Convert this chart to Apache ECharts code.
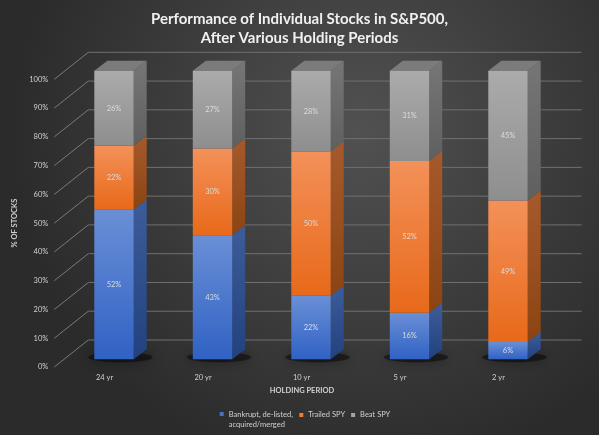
<!DOCTYPE html>
<html><head><meta charset="utf-8">
<script src="https://cdn.jsdelivr.net/npm/echarts@6/dist/echarts.min.js"></script>
<style>html,body{margin:0;padding:0;background:#333}#c{width:599px;height:435px}</style>
</head><body><div id="c"></div>
<script>
const categories = ['24 yr', '20 yr', '10 yr', '5 yr', '2 yr'];
const bankrupt = [52, 43, 22, 16, 6];
const trailed = [22, 30, 50, 52, 49];
const beat = [26, 27, 28, 31, 45];
const yTicks = [0, 10, 20, 30, 40, 50, 60, 70, 80, 90, 100];
const seriesNames = ['Bankrupt, de-listed,\nacquired/merged', 'Trailed SPY', 'Beat SPY'];

const FONT = 'Lato';
const palettes = [
  { legend: '#4472c4', front: ['#6a8fd6', '#3062c4'], side: ['#3d5d9a', '#22427f'] },
  { legend: '#ed7d31', front: ['#f39159', '#e8691a'], side: ['#a65a2c', '#8c4412'] },
  { legend: '#a5a5a5', front: ['#ababab', '#8e8e8e'], side: ['#767676', '#5f5f5f'], top: '#7b7b7b' }
];

const valueSets = [bankrupt, trailed, beat];
// 100% stacked: each column is scaled to its total, labels show the values
function stackRows(k) {
  return categories.map(function (c, i) {
    let total = 0, base = 0;
    for (let j = 0; j < valueSets.length; j++) total += valueSets[j][i];
    for (let j = 0; j < k; j++) base += valueSets[j][i];
    const s = 100 / total;
    return [i, base * s, (base + valueSets[k][i]) * s, valueSets[k][i]];
  });
}

function grad(c) {
  return new echarts.graphic.LinearGradient(0, 0, 0, 1, [{ offset: 0, color: c[0] }, { offset: 1, color: c[1] }]);
}

function makeRender(k) {
  const pal = palettes[k];
  const isTop = k === valueSets.length - 1;
  return function (params, api) {
    const cat = api.value(0), lo = api.value(1), hi = api.value(2), pct = api.value(3);
    const pLo = api.coord([cat, lo]);
    const pHi = api.coord([cat, hi]);
    const bw = api.size([1, 0])[0] * 0.4;
    const x0 = pLo[0] - bw / 2, x1 = pLo[0] + bw / 2;
    const yT = pHi[1], yB = pLo[1];
    const dx = 13, dy = 10;
    const children = [];
    if (k === 0) {
      children.push({
        type: 'ellipse',
        shape: { cx: (x0 + x1 + dx) / 2, cy: yB - 2, rx: (bw + dx) / 2 + 6, ry: 5 },
        style: { fill: 'rgba(0,0,0,0.45)', shadowBlur: 12, shadowColor: 'rgba(0,0,0,0.8)' }
      });
    }
    children.push({
      type: 'polygon',
      shape: { points: [[x1, yT], [x1 + dx, yT - dy], [x1 + dx, yB - dy], [x1, yB]] },
      style: { fill: grad(pal.side) }
    });
    if (isTop) {
      children.push({
        type: 'polygon',
        shape: { points: [[x0, yT], [x0 + dx, yT - dy], [x1 + dx, yT - dy], [x1, yT]] },
        style: { fill: pal.top }
      });
    }
    children.push({
      type: 'rect',
      shape: { x: x0, y: yT, width: bw, height: yB - yT },
      style: { fill: grad(pal.front) }
    });
    children.push({
      type: 'text',
      style: {
        text: pct + '%', x: (x0 + x1) / 2, y: (yT + yB) / 2,
        align: 'center', verticalAlign: 'middle',
        fill: '#dcdcdc', fontSize: 7.5, fontFamily: FONT
      }
    });
    return { type: 'group', children: children };
  };
}

function renderGrid(params, api) {
  const v = api.value(0);
  const p = api.coord([0, v]);
  const pr = api.coord([1, v]);
  const dx = 34, dy = 27;
  return {
    type: 'group',
    children: [
      { type: 'line', shape: { x1: p[0], y1: p[1], x2: p[0] + dx, y2: p[1] - dy }, style: { stroke: '#7a7a7a', lineWidth: 1 } },
      { type: 'line', shape: { x1: p[0] + dx, y1: p[1] - dy, x2: pr[0], y2: p[1] - dy }, style: { stroke: '#707070', lineWidth: 1 } }
    ]
  };
}

const chart = echarts.init(document.getElementById('c'));
const barSeries = seriesNames.map(function (name, k) {
  return {
    type: 'custom', name: name, xAxisIndex: 1, yAxisIndex: 1, z: 3,
    itemStyle: { color: palettes[k].legend },
    renderItem: makeRender(k),
    encode: { x: 0, y: [1, 2] },
    data: stackRows(k)
  };
});

const legendText = { color: '#d0d0d0', fontSize: 7.5, fontFamily: FONT, lineHeight: 10 };
chart.setOption({
  backgroundColor: new echarts.graphic.RadialGradient(0.6, 0.3, 0.8, [
    { offset: 0, color: '#515151' }, { offset: 1, color: '#2b2b2b' }
  ]),
  animation: false,
  title: {
    text: 'Performance of Individual Stocks in S&P500,\nAfter Various Holding Periods',
    left: 'center', top: 5,
    textStyle: { color: '#f0f0f0', fontSize: 15, fontWeight: 'bold', fontFamily: FONT, lineHeight: 19 }
  },
  legend: [
    {
      left: 214.7, top: 404.5, itemWidth: 4, itemHeight: 15,
      icon: 'path://M0,0L4,0L4,4L0,4Z M0,15L4,15',
      textStyle: legendText,
      data: [seriesNames[0]]
    },
    {
      left: 294.3, top: 405, itemWidth: 4, itemHeight: 4, itemGap: 6,
      icon: 'rect',
      textStyle: legendText,
      data: [seriesNames[1], seriesNames[2]]
    }
  ],
  grid: [
    { left: 54.3, right: 17.3, top: 79.3, bottom: 68 },
    { left: 64.75, right: 41.75, top: 70.7, bottom: 75.7 }
  ],
  xAxis: [
    { type: 'value', gridIndex: 0, min: 0, max: 1, show: false },
    {
      type: 'category', gridIndex: 1, data: categories,
      axisLine: { show: false }, axisTick: { show: false },
      axisLabel: { color: '#d0d0d0', fontSize: 7.5, fontFamily: FONT, margin: 14, padding: [0, 19, 0, 0] },
      name: 'HOLDING PERIOD', nameLocation: 'middle', nameGap: 25,
      nameTextStyle: { color: '#d0d0d0', fontSize: 7.5, fontWeight: 'bold', fontFamily: FONT, padding: [0, 18, 0, 0] }
    }
  ],
  yAxis: [
    {
      type: 'value', gridIndex: 0, min: 0, max: 100, interval: 10,
      axisLine: { show: false }, axisTick: { show: false }, splitLine: { show: false },
      axisLabel: { color: '#d0d0d0', fontSize: 7.5, fontFamily: FONT, margin: 6, formatter: '{value}%' },
      name: '% OF STOCKS', nameLocation: 'middle', nameRotate: 90, nameGap: 25,
      nameTextStyle: { color: '#d0d0d0', fontSize: 7.5, fontWeight: 'bold', fontFamily: FONT }
    },
    { type: 'value', gridIndex: 1, min: 0, max: 100, show: false }
  ],
  series: [{
    type: 'custom', name: 'grid', xAxisIndex: 0, yAxisIndex: 0, z: 1, silent: true,
    renderItem: renderGrid, encode: { y: 0 },
    data: yTicks.map(function (t) { return [t]; })
  }].concat(barSeries)
});
</script>
</body></html>
